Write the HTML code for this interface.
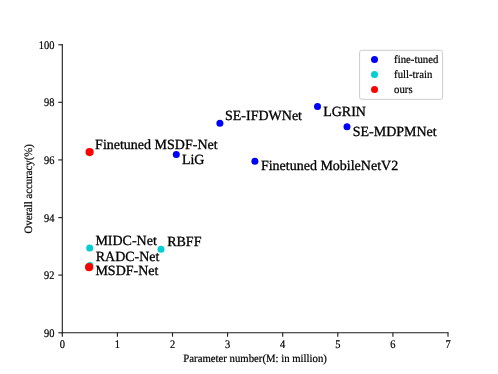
<!DOCTYPE html><html><head><meta charset="utf-8"><style>html,body{margin:0;padding:0;background:#fff}svg{display:block}text{font-family:"Liberation Serif",serif;fill:#000;text-rendering:geometricPrecision}</style></head><body>
<svg width="498" height="374" viewBox="0 0 498 374">
<rect width="498" height="374" fill="#fff"/>
<g stroke="#1c1c1c" stroke-width="1.1" fill="none">
<path d="M62.3 44.1V333.4"/><path d="M61.7 332.75H448.6"/>
<path d="M62.3 332.75v4"/>
<path d="M117.4 332.75v4"/>
<path d="M172.5 332.75v4"/>
<path d="M227.6 332.75v4"/>
<path d="M282.7 332.75v4"/>
<path d="M337.8 332.75v4"/>
<path d="M392.9 332.75v4"/>
<path d="M448.0 332.75v4"/>
<path d="M62.3 332.8h-4"/>
<path d="M62.3 275.1h-4"/>
<path d="M62.3 217.6h-4"/>
<path d="M62.3 159.9h-4"/>
<path d="M62.3 102.3h-4"/>
<path d="M62.3 44.8h-4"/>
</g>
<text transform="translate(62.3 347.6) scale(0.97 1.09)" font-size="10.75" stroke="#000" stroke-width="0.2" text-anchor="middle">0</text>
<text transform="translate(117.4 347.6) scale(0.97 1.09)" font-size="10.75" stroke="#000" stroke-width="0.2" text-anchor="middle">1</text>
<text transform="translate(172.5 347.6) scale(0.97 1.09)" font-size="10.75" stroke="#000" stroke-width="0.2" text-anchor="middle">2</text>
<text transform="translate(227.6 347.6) scale(0.97 1.09)" font-size="10.75" stroke="#000" stroke-width="0.2" text-anchor="middle">3</text>
<text transform="translate(282.7 347.6) scale(0.97 1.09)" font-size="10.75" stroke="#000" stroke-width="0.2" text-anchor="middle">4</text>
<text transform="translate(337.8 347.6) scale(0.97 1.09)" font-size="10.75" stroke="#000" stroke-width="0.2" text-anchor="middle">5</text>
<text transform="translate(392.9 347.6) scale(0.97 1.09)" font-size="10.75" stroke="#000" stroke-width="0.2" text-anchor="middle">6</text>
<text transform="translate(448.0 347.6) scale(0.97 1.09)" font-size="10.75" stroke="#000" stroke-width="0.2" text-anchor="middle">7</text>
<text transform="translate(54.5 336.8) scale(0.97 1.09)" font-size="10.75" stroke="#000" stroke-width="0.2" text-anchor="end">90</text>
<text transform="translate(54.5 279.1) scale(0.97 1.09)" font-size="10.75" stroke="#000" stroke-width="0.2" text-anchor="end">92</text>
<text transform="translate(54.5 221.6) scale(0.97 1.09)" font-size="10.75" stroke="#000" stroke-width="0.2" text-anchor="end">94</text>
<text transform="translate(54.5 163.9) scale(0.97 1.09)" font-size="10.75" stroke="#000" stroke-width="0.2" text-anchor="end">96</text>
<text transform="translate(54.5 106.3) scale(0.97 1.09)" font-size="10.75" stroke="#000" stroke-width="0.2" text-anchor="end">98</text>
<text transform="translate(54.5 48.8) scale(0.97 1.09)" font-size="10.75" stroke="#000" stroke-width="0.2" text-anchor="end">100</text>
<text transform="translate(255.1 362.0) scale(1 1.045)" font-size="10.75" stroke="#000" stroke-width="0.2" text-anchor="middle">Parameter number(M: in million)</text>
<text transform="translate(31.7 188.8) rotate(-90) scale(1 1.045)" font-size="10.75" stroke="#000" stroke-width="0.2" text-anchor="middle">Overall accuracy(%)</text>
<circle cx="90.0" cy="265.4" r="3.5" fill="#00ced1"/>
<circle cx="89.7" cy="248.0" r="3.5" fill="#00ced1"/>
<circle cx="161.0" cy="249.2" r="3.5" fill="#00ced1"/>
<circle cx="89.1" cy="267.2" r="4.1" fill="#ff0000"/>
<circle cx="89.6" cy="152.1" r="4.1" fill="#ff0000"/>
<circle cx="176.3" cy="154.4" r="3.5" fill="#0000ff"/>
<circle cx="219.9" cy="123.2" r="3.5" fill="#0000ff"/>
<circle cx="317.5" cy="106.6" r="3.5" fill="#0000ff"/>
<circle cx="347.0" cy="126.8" r="3.5" fill="#0000ff"/>
<circle cx="254.9" cy="161.3" r="3.5" fill="#0000ff"/>
<text x="95.7" y="261.4" font-size="14" stroke="#000" stroke-width="0.3">RADC-Net</text>
<text x="95.4" y="244.5" font-size="14" stroke="#000" stroke-width="0.3">MIDC-Net</text>
<text x="167.2" y="246.3" font-size="14" stroke="#000" stroke-width="0.3">RBFF</text>
<text x="95.4" y="274.9" font-size="14" stroke="#000" stroke-width="0.3">MSDF-Net</text>
<text x="95.1" y="149.4" font-size="14" stroke="#000" stroke-width="0.3">Finetuned MSDF-Net</text>
<text x="181.9" y="163.9" font-size="14" stroke="#000" stroke-width="0.3">LiG</text>
<text x="225.0" y="120.2" font-size="14" stroke="#000" stroke-width="0.3">SE-IFDWNet</text>
<text x="323.2" y="115.6" font-size="14" stroke="#000" stroke-width="0.3">LGRIN</text>
<text x="352.7" y="135.8" font-size="14" stroke="#000" stroke-width="0.3">SE-MDPMNet</text>
<text x="260.9" y="170.1" font-size="14" stroke="#000" stroke-width="0.3">Finetuned MobileNetV2</text>
<rect x="359.6" y="50.3" width="83" height="49" rx="2" fill="#fff" stroke="#ccc" stroke-width="1"/>
<circle cx="374.5" cy="59.50" r="3.5" fill="#0000ff"/>
<text transform="translate(394.1 62.50) scale(1 1.045)" font-size="10.75" stroke="#000" stroke-width="0.2">fine-tuned</text>
<circle cx="374.5" cy="74.55" r="3.5" fill="#00ced1"/>
<text transform="translate(394.1 77.55) scale(1 1.045)" font-size="10.75" stroke="#000" stroke-width="0.2">full-train</text>
<circle cx="374.5" cy="89.60" r="3.5" fill="#ff0000"/>
<text transform="translate(394.1 92.60) scale(1 1.045)" font-size="10.75" stroke="#000" stroke-width="0.2">ours</text>
</svg></body></html>
